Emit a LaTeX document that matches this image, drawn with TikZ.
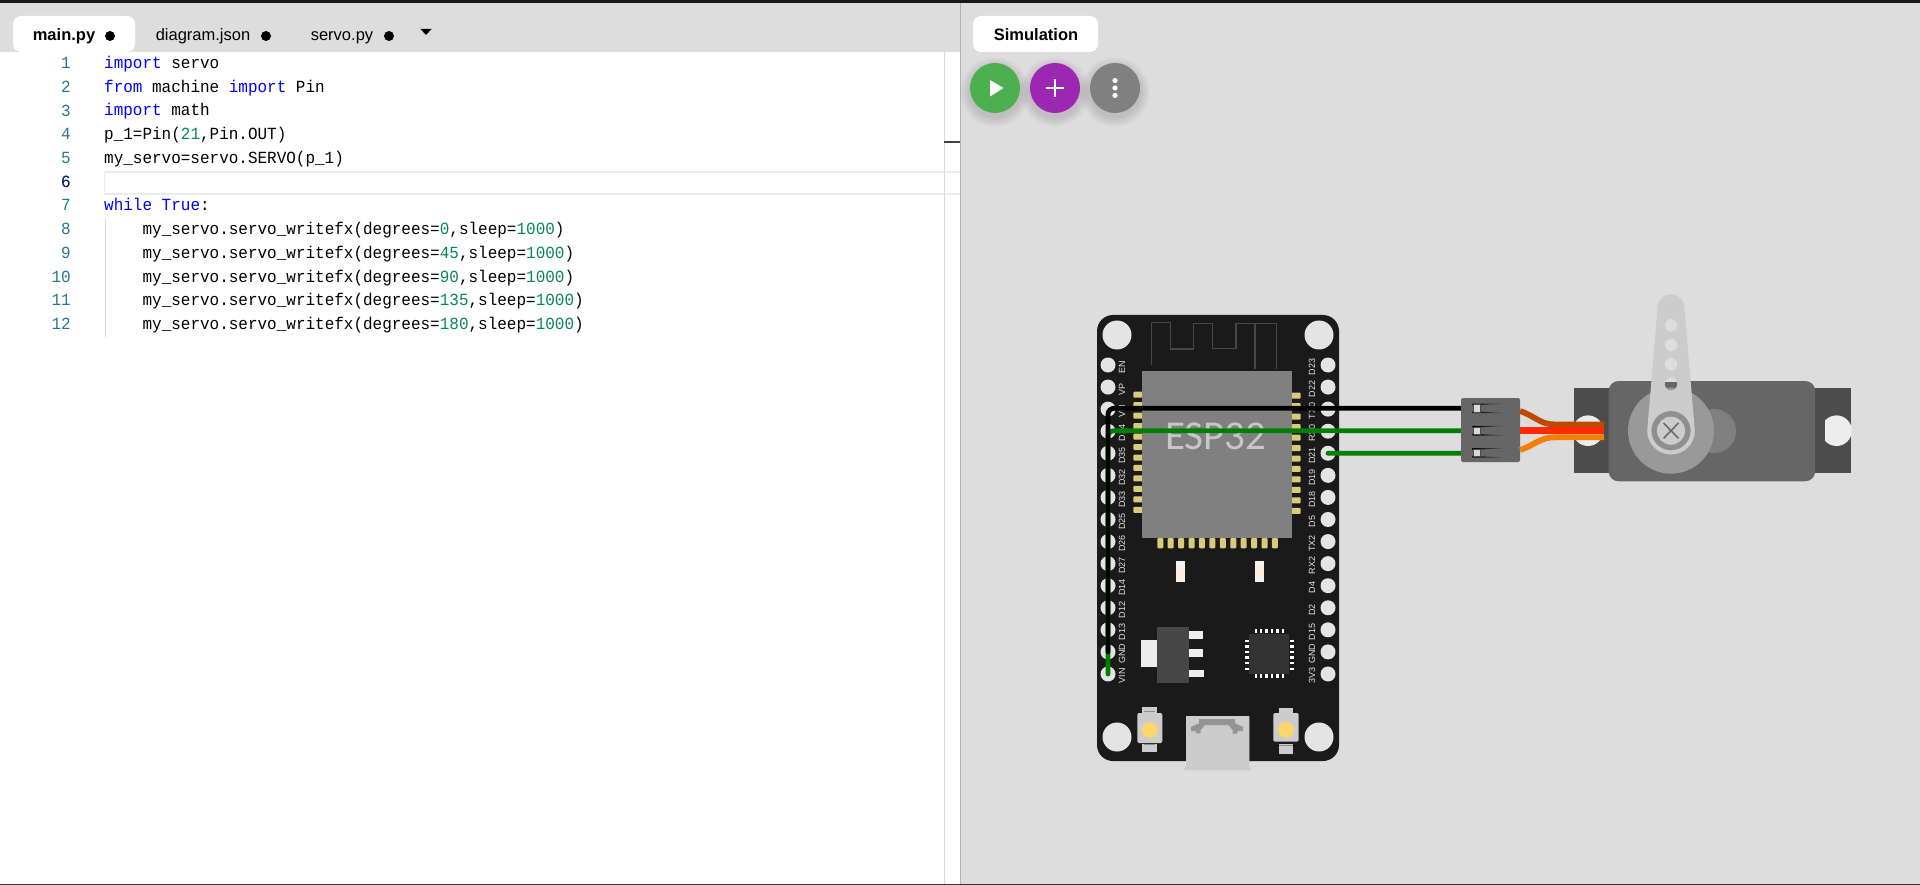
\documentclass[tikz,border=0pt]{standalone}
\usepackage{fontspec}
\setmainfont{Liberation Sans}
\setmonofont[FakeStretch=0.94]{Liberation Mono}
\newfontfamily\chipfont{Carlito}
\definecolor{panelgrey}{HTML}{DDDDDD}
\definecolor{boardblack}{HTML}{1A1A1A}
\definecolor{holegrey}{HTML}{E4E4E4}
\definecolor{padgold}{HTML}{D9CB7A}
\definecolor{codeblue}{HTML}{0000FF}
\definecolor{codegreen}{HTML}{098658}
\definecolor{linenum}{HTML}{237893}
\definecolor{linecur}{HTML}{0B216F}
\definecolor{wiregreen}{HTML}{008000}
\newcommand{\kw}[1]{\textcolor{codeblue}{#1}}
\newcommand{\nm}[1]{\textcolor{codegreen}{#1}}
\tikzset{
  tabtext/.style={font=\fontsize{16.5}{18}\selectfont,text=black,inner sep=0pt,anchor=base},
  tabdot/.style={circle,fill=black,minimum size=10pt,inner sep=0pt},
  codeline/.style={font=\fontsize{17}{20}\ttfamily,anchor=base west,inner sep=0pt},
  lineno/.style={font=\fontsize{17}{20}\ttfamily,anchor=base east,inner sep=0pt,text=linenum},
  roundbtn/.style={circle,minimum size=50pt,inner sep=0pt},
  boardhole/.style={circle,fill=holegrey,minimum size=29pt,inner sep=0pt},
  pinhole/.style={circle,fill=holegrey,minimum size=15pt,inner sep=0pt},
  pinlabel/.style={font=\fontsize{9}{10}\selectfont,text=holegrey,rotate=90,inner sep=0pt},
  wire/.style={line width=4.8pt,line cap=round},
  cablewire/.style={line width=5.8pt},
}
\begin{document}
\begin{tikzpicture}[x=1pt,y=-1pt]
  \useasboundingbox (0,0) rectangle (1920,885);
  \fill[white] (0,0) rectangle (1920,885);
  \fill[panelgrey] (0,0) rectangle (960,52);
  \fill[panelgrey] (960,0) rectangle (1920,885);
  \fill[black!90] (0,0) rectangle (1920,3);
  \fill[black!30] (959.5,3) rectangle (961,885);
  \fill[black!80] (0,883.8) rectangle (1920,885);

  \fill[white,rounded corners=8pt] (13,52) -- (13,16) -- (135,16) -- (135,52) -- cycle;
  \node[tabtext,font=\fontsize{16.5}{18}\selectfont\bfseries] (tabmain) at (64,40.5) {main.py};
  \node[tabdot] (dotmain) at (110,36) {};
  \node[tabtext] (tabdiagram) at (203,40.5) {diagram.json};
  \node[tabdot] (dotdiagram) at (266,36) {};
  \node[tabtext] (tabservo) at (342,40.5) {servo.py};
  \node[tabdot] (dotservo) at (389,36) {};
  \fill[black] (420.5,29) -- (431.5,29) -- (426,35) -- cycle;

  \draw[black!8,line width=1.4pt] (104.5,172) -- (959.5,172) (959.5,194) -- (104.5,194) -- (104.5,172);
  \draw[black!15,line width=1pt] (105,218) -- (105,337);
  \fill[black!14] (943.5,52) rectangle (945,883.8);
  \fill[black!75] (944,141) rectangle (960,143);

  \foreach \n in {1,...,12}
    \node[lineno] (num\n) at (71,{68.6+23.72*(\n-1)}) {\n};
  \node[lineno,text=linecur] (num6b) at (71,187.2) {6};

  \node[codeline] (code1) at (104,68.6) {\kw{import} servo};
  \node[codeline] (code2) at (104,92.3) {\kw{from} machine \kw{import} Pin};
  \node[codeline] (code3) at (104,116) {\kw{import} math};
  \node[codeline] (code4) at (104,139.8) {p\_1=Pin(\nm{21},Pin.OUT)};
  \node[codeline] (code5) at (104,163.5) {my\_servo=servo.SERVO(p\_1)};
  \node[codeline] (code7) at (104,210.9) {\kw{while} \kw{True}:};
  \node[codeline] (code8) at (142.4,234.6) {my\_servo.servo\_writefx(degrees=\nm{0},sleep=\nm{1000})};
  \node[codeline] (code9) at (142.4,258.4) {my\_servo.servo\_writefx(degrees=\nm{45},sleep=\nm{1000})};
  \node[codeline] (code10) at (142.4,282.1) {my\_servo.servo\_writefx(degrees=\nm{90},sleep=\nm{1000})};
  \node[codeline] (code11) at (142.4,305.8) {my\_servo.servo\_writefx(degrees=\nm{135},sleep=\nm{1000})};
  \node[codeline] (code12) at (142.4,329.5) {my\_servo.servo\_writefx(degrees=\nm{180},sleep=\nm{1000})};

  \fill[white,rounded corners=8pt] (973,52) -- (973,16) -- (1098,16) -- (1098,52) -- cycle;
  \node[tabtext,font=\fontsize{16.5}{18}\selectfont\bfseries] (tabsim) at (1036,40.5) {Simulation};

  \foreach \bx in {995,1055,1115}
    \foreach \r in {35,34,33,32,31,30,29,28,27,26}
      \fill[black,opacity=0.012] (\bx,92) circle (\r);
  \node[roundbtn,fill={rgb,255:red,76;green,175;blue,80}] (btnrun) at (995,88) {};
  \node[roundbtn,fill={rgb,255:red,156;green,39;blue,176}] (btnadd) at (1055,88) {};
  \node[roundbtn,fill={rgb,255:red,128;green,128;blue,128}] (btnmore) at (1115,88) {};
  \fill[white] (990,80) -- (1003.5,88) -- (990,96.5) -- cycle;
  \draw[white,line width=2.4pt] (1046,88) -- (1064,88) (1055,79) -- (1055,97);
  \foreach \dy in {-7.5,0,7.5}
    \fill[white] (1115,88+\dy) circle (2.6);

  \fill[boardblack,rounded corners=16pt] (1097,315) rectangle (1339,761);
  \draw[black!72,line width=1.2pt] (1151.7,365) -- (1151.7,322.7) -- (1170.7,322.7) -- (1170.7,349) -- (1193.3,349) -- (1193.3,323.3) -- (1212.7,323.3) -- (1212.7,348.3) -- (1236,348.3) -- (1236,323.3) -- (1276.7,323.3) -- (1276.7,369.3);
  \draw[black!72,line width=1.2pt] (1255,323.3) -- (1255,369.3);

  \foreach \i in {0,...,11} {
    \fill[padgold,rounded corners=1pt] (1133.3,{391.7+10.47*\i}) rectangle (1142.8,{397.7+10.47*\i});
    \fill[padgold,rounded corners=1pt] (1291.5,{392.7+10.47*\i}) rectangle (1300.7,{398.7+10.47*\i});
    \fill[padgold,rounded corners=1pt] ({1157.3+10.42*\i},538) rectangle ({1163.3+10.42*\i},548.3);
  }
  \fill[black!50] (1142.3,371.3) rectangle (1291.7,538.3);
  \node[font=\fontsize{41}{44}\chipfont,text=black!22,inner sep=0pt] (chiplabel) at (1215.7,436) {ESP32};

  \node[boardhole] (holetl) at (1117,335) {};
  \node[boardhole] (holetr) at (1319,335) {};
  \node[boardhole] (holebl) at (1117,737) {};
  \node[boardhole] (holebr) at (1319,737) {};

  \foreach \name [count=\i] in {EN,VP,VN,D34,D35,D32,D33,D25,D26,D27,D14,D12,D13,GND,VIN} {
    \node[pinhole] (l\i) at (1108,{365+22.07*(\i-1)}) {};
    \node[pinlabel] (ll\i) at (1122,{367+22.07*(\i-1)}) {\name};
  }
  \foreach \name [count=\i] in {D23,D22,TX0,RX0,D21,D19,D18,D5,TX2,RX2,D4,D2,D15,GND,3V3} {
    \node[pinhole] (r\i) at (1328,{365+22.07*(\i-1)}) {};
    \node[pinlabel] (rl\i) at (1312,{367+22.07*(\i-1)}) {\name};
  }

  \fill[black!5] (1176.3,560.7) rectangle (1185.3,582);
  \fill[orange!14] (1176.3,567.5) rectangle (1185.3,579.5);
  \fill[black!5] (1255,560.7) rectangle (1263.7,582);
  \fill[orange!14] (1255,565.5) rectangle (1263.7,577);

  \fill[black!7] (1140.7,640.3) rectangle (1157,666.7);
  \fill[black!72] (1156.7,627) rectangle (1188.7,683);
  \fill[black!7] (1188.7,631.3) rectangle (1202.7,638.7);
  \fill[black!7] (1188.7,649.3) rectangle (1202.7,656.7);
  \fill[black!7] (1188.7,670) rectangle (1203.5,677.3);

  \fill[black!80] (1249,633.7) rectangle (1289,673.7);
  \foreach \i in {0,...,5} {
    \fill[white] ({1254.5+5.4*\i},629) rectangle ({1257+5.4*\i},633);
    \fill[white] ({1254.5+5.4*\i},674.3) rectangle ({1257+5.4*\i},678.3);
    \fill[white] (1244.5,{639.5+5.6*\i}) rectangle (1248.5,{642+5.6*\i});
    \fill[white] (1289.5,{639.5+5.6*\i}) rectangle (1293.5,{642+5.6*\i});
  }

  \fill[black!20] (1141.7,706.7) rectangle (1157.3,713.5);
  \fill[black!20] (1141.7,744) rectangle (1157.3,751.7);
  \fill[black!20,rounded corners=2pt] (1137.3,713) rectangle (1162.3,743);
  \fill[black!45] (1144,711) rectangle (1155,712.2);
  \fill[black!45] (1144,744) rectangle (1155,745.2);
  \fill[black!20] (1279,708.3) rectangle (1293.3,713.5);
  \fill[black!20] (1279,744) rectangle (1293.3,754);
  \fill[black!20,rounded corners=2pt] (1273.3,713) rectangle (1298.7,741.7);
  \fill[black!45] (1279,745) rectangle (1293.3,746.2);
  \fill[yellow!45!orange!55] (1149.7,730) circle (8);
  \fill[yellow!45!orange!55] (1286,730) circle (8);

  \fill[black!20] (1183.5,770) -- (1186,766) -- (1186,716) -- (1249.3,716) -- (1249.3,766) -- (1251.5,770) -- cycle;
  \fill[black!20,rounded corners=3pt] (1186,716) rectangle (1249,770);
  \fill[black!42] (1191,727) -- (1199,723.3) -- (1199,719) -- (1235,719) -- (1235,723.3) -- (1243,727) -- (1243,731) -- (1237.3,731) -- (1237.3,733.7) -- (1232.7,733.7) -- (1232.7,730) -- (1228.3,725) -- (1205,725) -- (1200.7,730) -- (1200.7,733.3) -- (1196,733.3) -- (1196,731) -- (1191,731) -- cycle;

  \coordinate (w1) at (1463,408.3);
  \coordinate (w2) at (1463,430.7);
  \coordinate (w3) at (1463,453.28);
  \draw[wire,wiregreen,rounded corners=6pt] (l15.center) |- (w2);
  \draw[wire,black,rounded corners=6pt] (l14.center) |- (w1);
  \draw[wire,wiregreen] (r5.center) -- (w3);

  \fill[black!60,rounded corners=1.5pt] (1461,398) rectangle (1520,462);
  \foreach \n/\cy in {1/408.3,2/430.7,3/452.9} {
    \shade[left color=black,right color=black!60] (1472.6,\cy-4.8) -- (1508,\cy-4.8) -- (1472.6,\cy-3) -- cycle;
    \shade[left color=black,right color=black!60] (1472.6,\cy+4.8) -- (1508,\cy+4.8) -- (1472.6,\cy+3) -- cycle;
    \node[draw=black!70,line width=0.5pt,fill=black!15,minimum size=7.5pt,inner sep=0pt] (cp\n) at (1476.5,\cy) {};
  }

  \fill[black!70] (1573.5,388.3) rectangle (1851.4,473.3);
  \fill[black!7] (1588,430.7) circle (15.3);
  \begin{scope}
    \clip (1825,410) rectangle (1851.6,452);
    \fill[black!7] (1836.5,430.7) circle (15.3);
  \end{scope}

  \fill[black!60,rounded corners=10pt] (1608.6,381) rectangle (1815.2,481.3);
  \fill[black!50] (1714,431) circle (22);
  \fill[black!40] (1671,430.7) circle (43);

  \draw[cablewire,color={rgb,255:red,190;green,74;blue,0}] (1520,411) .. controls (1535,416) and (1540,424.5) .. (1555,424.5) -- (1604,424.5);
  \draw[cablewire,color={rgb,255:red,247;green,127;blue,0}] (1520,450) .. controls (1535,445) and (1540,437.3) .. (1555,437.3) -- (1604,437.3);
  \draw[cablewire,line width=6.6pt,color={rgb,255:red,255;green,42;blue,0}] (1520,430.7) -- (1604,430.7);

  \fill[black!20] (1657.6,307.7) arc (180:360:13.4) -- (1694.8,430.7) arc (0:180:23.8) -- cycle;
  \foreach \hy in {325.3,345,364.3}
    \fill[panelgrey] (1671,\hy) circle (6.2);
  \begin{scope}
    \clip (1671,384) circle (6.2);
    \fill[panelgrey] (1660,375) rectangle (1682,395);
    \fill[black!60] (1660,381.5) rectangle (1682,395);
    \fill[black!40] (1671,430.7) circle (43);
  \end{scope}
  \fill[black!44] (1671,430.7) circle (19.6);
  \fill[black!20] (1671,430.7) circle (14);
  \draw[black!58,line width=1.6pt] (1663.5,423) -- (1678.5,438.4) (1663.5,438.4) -- (1678.5,423);
\end{tikzpicture}
\end{document}
